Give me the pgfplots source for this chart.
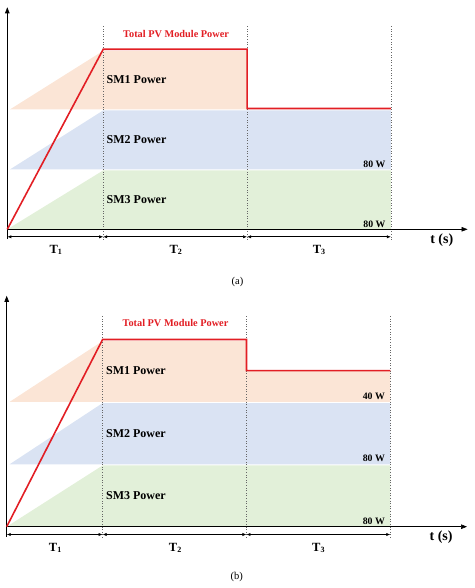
\documentclass[border=0pt]{standalone}
\usepackage{fontspec}
\setmainfont{Liberation Serif}
\usepackage{pgfplots}
\pgfplotsset{compat=1.18}
\usetikzlibrary{arrows.meta}

\definecolor{smone}{HTML}{FBE5D6}
\definecolor{smtwo}{HTML}{DAE3F3}
\definecolor{smthree}{HTML}{E2F0D9}
\definecolor{pvred}{RGB}{226,30,36}

\pgfplotsset{
  panel/.style={hide axis, clip=false, x=95.9pt,
    xmin=-0.1, xmax=4.9, ymin=-40, ymax=300, anchor=origin},
  band/.style={draw=none, fill=#1, forget plot},
  total/.style={pvred, line width=1.6pt, line join=miter, forget plot},
}
\tikzset{
  bnd/.style={gray!80!black, dotted, line width=0.6pt},
  tarr/.style={{Latex[length=4pt,width=3.2pt]}-{Latex[length=4pt,width=3.2pt]}, line width=0.6pt},
  axarr/.style={-{Triangle[length=6pt,width=4.5pt]}, line width=0.6pt},
  lbl/.style={font=\fontsize{12}{14}\selectfont\bfseries, anchor=west},
  watt/.style={font=\fontsize{9.8}{11}\selectfont\bfseries, anchor=base east},
  tlbl/.style={font=\fontsize{12.5}{14}\selectfont\bfseries},
}
\newcommand{\sub}[1]{\raisebox{-0.15ex}{\fontsize{8}{9}\selectfont #1}}

% shared decorations of a panel
\newcommand{\panelframe}{%
  \draw[bnd] (axis cs:1,-14) -- (axis cs:1,272);
  \draw[bnd] (axis cs:2.5,-14) -- (axis cs:2.5,272);
  \draw[bnd] (axis cs:4,-14) -- (axis cs:4,272);
  \draw[axarr] (axis cs:0,-13) -- (axis cs:0,296);
  \draw[axarr] (axis cs:0,0) -- (axis cs:4.8,0);
  \draw[tarr] (axis cs:0,-10) -- (axis cs:1,-10);
  \draw[tarr] (axis cs:1,-10) -- (axis cs:2.5,-10);
  \draw[tarr] (axis cs:2.5,-10) -- (axis cs:4,-10);
  \node[tlbl] at (axis cs:0.505,-27) {T\sub{1}};
  \node[tlbl] at (axis cs:1.756,-27) {T\sub{2}};
  \node[tlbl] at (axis cs:3.25,-27) {T\sub{3}};
  \node[font=\fontsize{14}{16}\selectfont\bfseries] at (axis cs:4.53,-14) {t (s)};
  \node[font=\fontsize{10.3}{12}\selectfont\bfseries, text=pvred] at (axis cs:1.76,261) {Total PV Module Power};
  \node[lbl] at (axis cs:1.0,200) {SM1 Power};
  \node[lbl] at (axis cs:1.0,120) {SM2 Power};
  \node[lbl] at (axis cs:1.0,40) {SM3 Power};
  \node[watt] at (axis cs:3.98,83) {80 W};
  \node[watt] at (axis cs:3.98,3) {80 W};
}

\begin{document}
\begin{tikzpicture}
\path[use as bounding box] (0,0) rectangle (474pt,588pt);

% (a)
\begin{axis}[panel, y=0.75pt, at={(7.3pt,358.7pt)}]
\addplot[band=smone] coordinates {(0.03,160) (1,238) (2.5,238) (2.5,160)};
\addplot[band=smtwo] coordinates {(0.03,80) (1,158.5) (4,158.5) (4,80)};
\addplot[band=smthree] coordinates {(0,0) (1,78.5) (4,78.5) (4,0)};
\panelframe
\addplot[total] coordinates {(0,0) (1,240) (2.5,240) (2.5,161) (4,161)};
\node[font=\fontsize{10.5}{12}\selectfont] at (axis cs:2.4,-70) {(a)};
\end{axis}

% (b)
\begin{axis}[panel, y=0.78pt, at={(6.7pt,61.3pt)}]
\addplot[band=smone] coordinates {(0.03,160) (1,238) (2.5,238) (2.5,200) (4,200) (4,160)};
\addplot[band=smtwo] coordinates {(0.03,80) (1,158.5) (4,158.5) (4,80)};
\addplot[band=smthree] coordinates {(0,0) (1,78.5) (4,78.5) (4,0)};
\panelframe
\node[watt] at (axis cs:3.98,163) {40 W};
\addplot[total] coordinates {(0,0) (1,240) (2.5,240) (2.5,200) (4,200)};
\node[font=\fontsize{10.5}{12}\selectfont] at (axis cs:2.4,-64) {(b)};
\end{axis}
\end{tikzpicture}
\end{document}
